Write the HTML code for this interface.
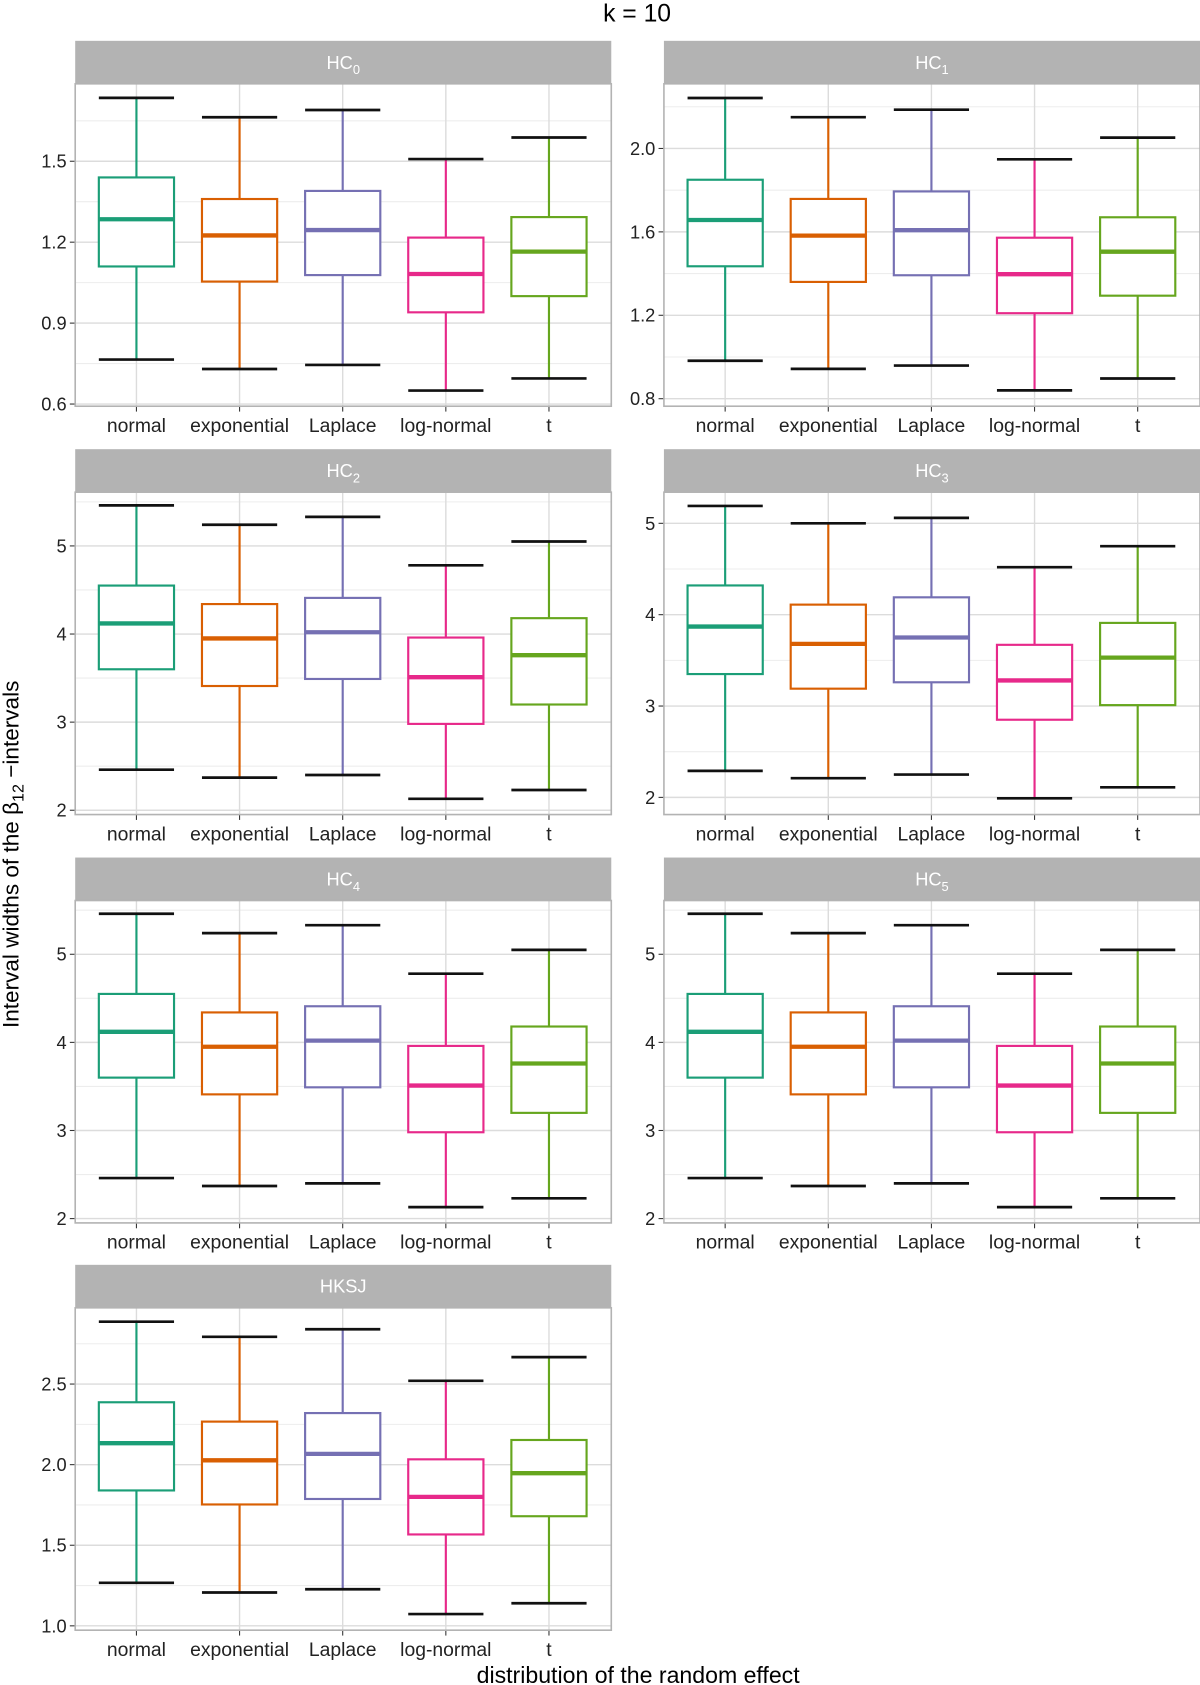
<!DOCTYPE html>
<html><head><meta charset="utf-8"><style>
html,body{margin:0;padding:0;background:#fff;}
svg{display:block;font-family:"Liberation Sans",sans-serif;}
</style></head><body>
<svg id="chart" width="1200" height="1685" viewBox="0 0 1117 1568" preserveAspectRatio="none" xmlns="http://www.w3.org/2000/svg">
<text x="593" y="20" font-size="23" text-anchor="middle">k = 10</text>
<text transform="translate(17,795) rotate(-90)" font-size="21" text-anchor="middle">Interval widths of the β<tspan font-size="15" dy="5">12</tspan><tspan dy="-5"> −intervals</tspan></text>
<text x="594" y="1566" font-size="21.5" text-anchor="middle">distribution of the random effect</text>
<g id="panels"></g>
</svg>
<script>
const categories = ["normal","exponential","Laplace","log-normal","t"];
const colors = ["#1b9e77","#d95f02","#7570b3","#e7298a","#66a61e"];
const panelNames = ["HC0","HC1","HC2","HC3","HC4","HC5","HKSJ"];
// each series: [lowerWhisker, Q1, median, Q3, upperWhisker] per category
const hc0Values = [[0.765,1.11,1.285,1.44,1.735],[0.73,1.054,1.225,1.36,1.663],[0.745,1.078,1.245,1.39,1.69],[0.65,0.94,1.082,1.217,1.508],[0.695,1.0,1.165,1.293,1.588]];
const hc1Values = [[0.982,1.435,1.657,1.85,2.242],[0.943,1.36,1.582,1.758,2.15],[0.959,1.392,1.608,1.794,2.186],[0.84,1.21,1.397,1.572,1.948],[0.897,1.294,1.505,1.67,2.052]];
const hc2Values = [[2.46,3.6,4.12,4.55,5.46],[2.37,3.41,3.95,4.34,5.24],[2.4,3.49,4.02,4.41,5.33],[2.13,2.98,3.51,3.96,4.78],[2.23,3.2,3.76,4.18,5.05]];
const hc3Values = [[2.29,3.35,3.87,4.32,5.19],[2.21,3.19,3.68,4.11,5.0],[2.25,3.26,3.75,4.19,5.06],[1.99,2.85,3.28,3.67,4.52],[2.11,3.01,3.53,3.91,4.75]];
const hc4Values = [[2.46,3.6,4.12,4.55,5.46],[2.37,3.41,3.95,4.34,5.24],[2.4,3.49,4.02,4.41,5.33],[2.13,2.98,3.51,3.96,4.78],[2.23,3.2,3.76,4.18,5.05]];
const hc5Values = [[2.46,3.6,4.12,4.55,5.46],[2.37,3.41,3.95,4.34,5.24],[2.4,3.49,4.02,4.41,5.33],[2.13,2.98,3.51,3.96,4.78],[2.23,3.2,3.76,4.18,5.05]];
const hksjValues = [[1.267,1.84,2.133,2.387,2.887],[1.207,1.753,2.027,2.267,2.793],[1.227,1.787,2.067,2.32,2.84],[1.073,1.567,1.8,2.033,2.52],[1.14,1.68,1.947,2.153,2.667]];
const hc0Ticks = ["0.6","0.9","1.2","1.5"];
const hc1Ticks = ["0.8","1.2","1.6","2.0"];
const hc2Ticks = ["2","3","4","5"];
const hc3Ticks = ["2","3","4","5"];
const hksjTicks = ["1.0","1.5","2.0","2.5"];
const hc0Domain = [0.592,1.787];
const hc1Domain = [0.764,2.310];
const hc2Domain = [1.951,5.61];
const hc3Domain = [1.812,5.341];
const hksjDomain = [0.973,2.973];

const NS="http://www.w3.org/2000/svg";
const root=document.getElementById('panels');
function mk(tag,attrs,parent){const e=document.createElementNS(NS,tag);for(const k in attrs)e.setAttribute(k,attrs[k]);(parent||root).appendChild(e);return e;}

const panels=[
 {name:"HC",sub:"0",col:0,row:0,vals:hc0Values,ticks:hc0Ticks,dom:hc0Domain},
 {name:"HC",sub:"1",col:1,row:0,vals:hc1Values,ticks:hc1Ticks,dom:hc1Domain},
 {name:"HC",sub:"2",col:0,row:1,vals:hc2Values,ticks:hc2Ticks,dom:hc2Domain},
 {name:"HC",sub:"3",col:1,row:1,vals:hc3Values,ticks:hc3Ticks,dom:hc3Domain},
 {name:"HC",sub:"4",col:0,row:2,vals:hc4Values,ticks:hc2Ticks,dom:hc2Domain},
 {name:"HC",sub:"5",col:1,row:2,vals:hc5Values,ticks:hc2Ticks,dom:hc2Domain},
 {name:"HKSJ",sub:"",col:0,row:3,vals:hksjValues,ticks:hksjTicks,dom:hksjDomain}
];
const colX=[70,618], rowY=[38,418,798,1177], PW=499, SH=40, PH=300;

panels.forEach((p,pi)=>{
  const x0=colX[p.col], sTop=rowY[p.row], top=sTop+SH, bot=top+PH;
  const g=mk('g',{});
  
  
  const y=v=>bot-(v-p.dom[0])/(p.dom[1]-p.dom[0])*PH;
  const xc=i=>x0+57+i*96;
  const strip=mk('rect',{x:x0,y:sTop,width:PW,height:SH,fill:'#b3b3b3'},g);
  
  
  const st=mk('text',{x:x0+PW/2,y:sTop+26,'font-size':17,fill:'#fff','text-anchor':'middle'},g);
  
  
  st.textContent=p.name;
  if(p.sub){const ts=mk('tspan',{'font-size':12,dy:5},st);ts.textContent=p.sub;}
  const tv=p.ticks.map(Number), step=tv[1]-tv[0];
  for(let k=-1;k<tv.length;k++){const v=tv[0]+(k+0.5)*step;const yy=y(v);if(yy>top&&yy<bot)mk('line',{x1:x0,x2:x0+PW,y1:yy,y2:yy,stroke:'#ededed','stroke-width':1},g);}
  p.ticks.forEach(t=>{const yy=y(Number(t));
    mk('line',{x1:x0,x2:x0+PW,y1:yy,y2:yy,stroke:'#dcdcdc','stroke-width':1.3},g);
    mk('line',{x1:x0-5,x2:x0,y1:yy,y2:yy,stroke:'#333','stroke-width':1},g);
    const tl=mk('text',{x:x0-8,y:yy+6,'font-size':17,'text-anchor':'end',fill:'#222'},g);
    
    
    tl.textContent=t;});
  categories.forEach((c,i)=>{const xx=xc(i);
    mk('line',{x1:xx,x2:xx,y1:top,y2:bot,stroke:'#dcdcdc','stroke-width':1.3},g);
    mk('line',{x1:xx,x2:xx,y1:bot,y2:bot+5,stroke:'#333','stroke-width':1},g);
    const xl=mk('text',{x:xx,y:bot+24,'font-size':18,'text-anchor':'middle',fill:'#222'},g);
    
    
    xl.textContent=c;});
  mk('rect',{x:x0,y:top,width:PW,height:PH,fill:'none',stroke:'#b3b3b3','stroke-width':1.5},g);
  p.vals.forEach((d,i)=>{const xx=xc(i),hw=35,col=colors[i];
    const bg=mk('g',{},g);
    
    
    mk('line',{x1:xx,x2:xx,y1:y(d[0]),y2:y(d[1]),stroke:col,'stroke-width':2},bg);
    mk('line',{x1:xx,x2:xx,y1:y(d[3]),y2:y(d[4]),stroke:col,'stroke-width':2},bg);
    mk('rect',{x:xx-hw,y:y(d[3]),width:2*hw,height:y(d[1])-y(d[3]),fill:'#fff',stroke:col,'stroke-width':2},bg);
    mk('line',{x1:xx-hw,x2:xx+hw,y1:y(d[2]),y2:y(d[2]),stroke:col,'stroke-width':4},bg);
    mk('line',{x1:xx-hw,x2:xx+hw,y1:y(d[0]),y2:y(d[0]),stroke:'#111','stroke-width':2.5},bg);
    mk('line',{x1:xx-hw,x2:xx+hw,y1:y(d[4]),y2:y(d[4]),stroke:'#111','stroke-width':2.5},bg);
  });
});
</script>
</body></html>
